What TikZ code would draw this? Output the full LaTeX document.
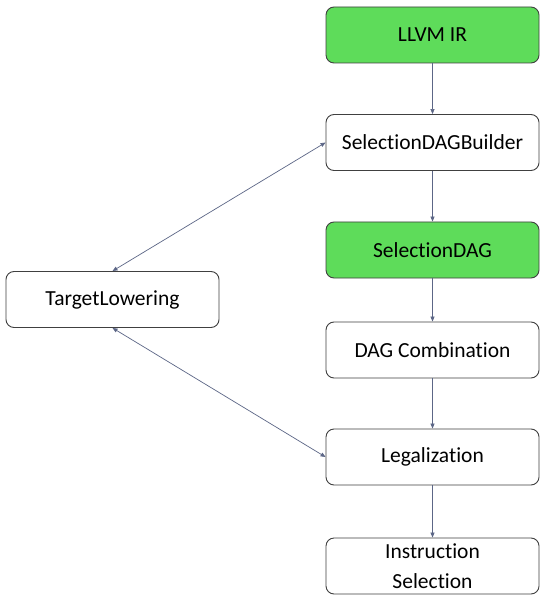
\documentclass[tikz,border=0pt]{standalone}
\usepackage{fontspec}
\setmainfont{Carlito}[Ligatures=NoCommon]
\usetikzlibrary{arrows.meta}
\definecolor{stagegreen}{HTML}{5EDC5A}
\definecolor{linkgray}{HTML}{5C6686}
\tikzset{
  stagebox/.style={draw=black!75, line width=0.9pt, rounded corners=8pt, fill=white,
    minimum width=213pt, minimum height=56pt, inner sep=0pt, align=center,
    font=\fontsize{21.5pt}{30pt}\selectfont},
  irbox/.style={stagebox, fill=stagegreen},
  flow/.style={draw=linkgray, line width=0.7pt, -{Triangle[length=5pt,width=4pt]}},
  link/.style={draw=linkgray, line width=0.7pt, {Triangle[length=5pt,width=4pt]}-{Triangle[length=5pt,width=4pt]}}
}
\begin{document}
\begin{tikzpicture}[x=1pt, y=-1pt]
\fill [color=white] (0, 0) rectangle (552, 601);

\node [irbox] (llvmir) at (432.5, 35) {LLVM IR};
\node [stagebox] (sdbuilder) at (432.5, 142.5) {SelectionDAGBuilder};
\node [irbox] (seldag) at (432.5, 250) {SelectionDAG};
\node [stagebox] (combine) at (432.5, 350) {DAG Combination};
\node [stagebox] (legal) at (432.5, 457) {Legalization};
\node [stagebox] (isel) at (432.5, 566) {Instruction\\Selection};

\node [stagebox] (tlower) at (112.5, 299.5) {TargetLowering};

\draw [flow] (llvmir) -- (sdbuilder);
\draw [flow] (sdbuilder) -- (seldag);
\draw [flow] (seldag) -- (combine);
\draw [flow] (combine) -- (legal);
\draw [flow] (legal) -- (isel);

\draw [link] (tlower.north) -- (sdbuilder.west);
\draw [link] (tlower.south) -- (legal.west);
\end{tikzpicture}
\end{document}
